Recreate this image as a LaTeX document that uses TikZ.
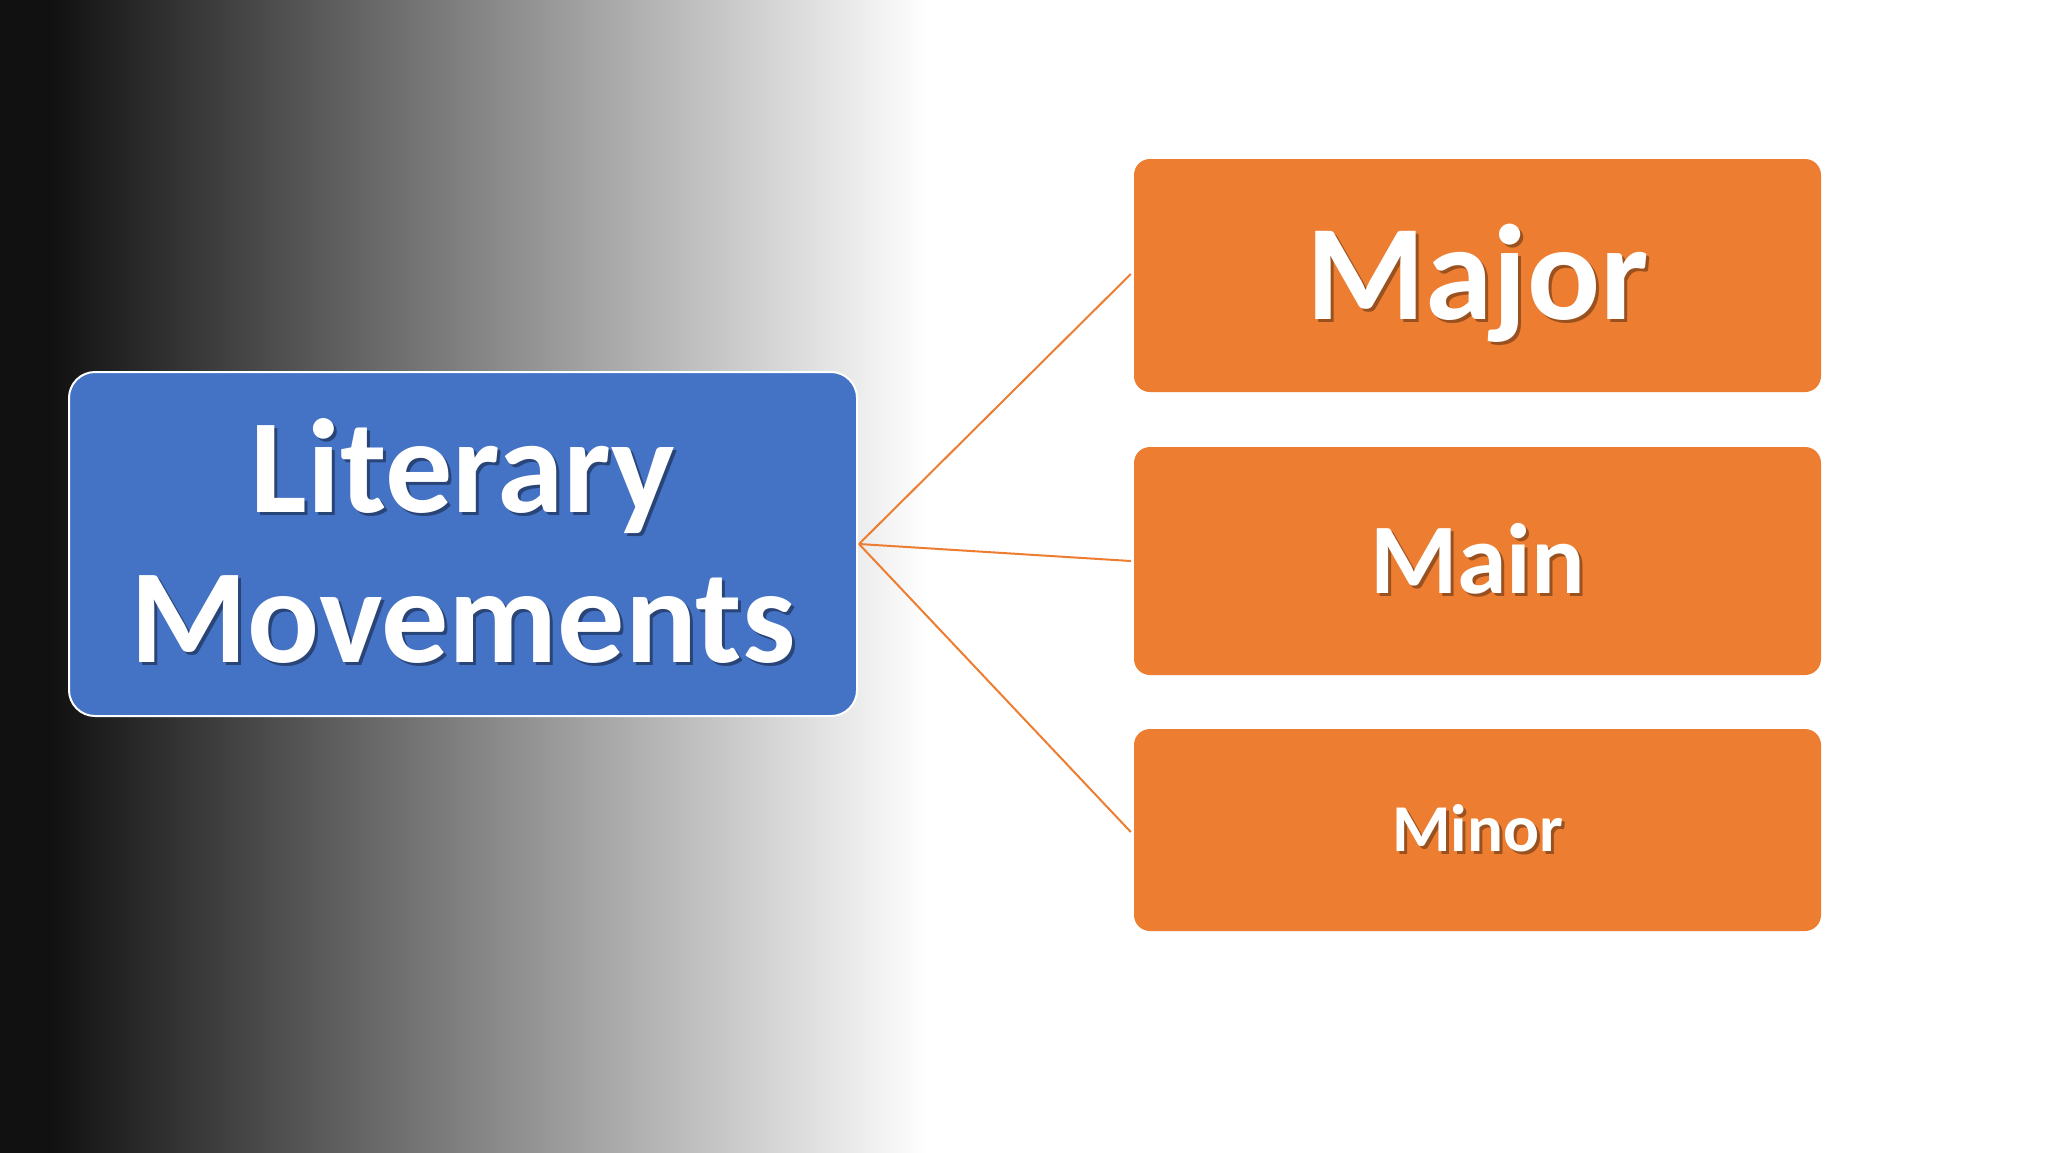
\documentclass[tikz,border=0pt]{standalone}
\usepackage{fontspec}
\setmainfont{Carlito}
\definecolor{boxblue}{HTML}{4472C4}
\definecolor{boxorange}{HTML}{ED7D31}
\definecolor{bgdark}{HTML}{111111}
\newcommand\shd[2]{\makebox[0pt][l]{\hspace{3pt}\raisebox{-3pt}{\textcolor{#1}{#2}}}#2}
\begin{document}
\begin{tikzpicture}[x=1pt,y=-1pt,
  mainbox/.style={draw=white, line width=2pt, fill=boxblue, rounded corners=26pt,
    minimum width=788pt, minimum height=344pt, text=white, align=center, inner sep=0pt},
  subbox/.style={fill=boxorange, rounded corners=16pt, minimum width=687pt,
    text=white, inner sep=0pt, text depth=0pt},
  link/.style={draw=boxorange, line width=2pt}]
\useasboundingbox (0,0) rectangle (2048,1152);
\fill[bgdark] (-3,-3) rectangle (53,1156);
\shade[left color=bgdark, right color=white] (52,-3) rectangle (928,1156);
\fill[white] (927,-3) rectangle (2052,1156);

\node[mainbox, text height=236pt, text depth=0pt,
  font=\bfseries\fontsize{134pt}{150pt}\selectfont] (lm) at (463,544)
  {\shd{boxblue!60!black}{Literary}\\\shd{boxblue!60!black}{Movements}};

\node[subbox, minimum height=233pt, text height=88pt,
  font=\bfseries\fontsize{136pt}{150pt}\selectfont] (maj) at (1477.5,275.5)
  {\shd{boxorange!65!black}{Major}};
\node[subbox, minimum height=228pt, text height=64pt,
  font=\bfseries\fontsize{100pt}{110pt}\selectfont] (mai) at (1477.5,561)
  {\shd{boxorange!65!black}{Main}};
\node[subbox, minimum height=202pt, text height=43pt,
  font=\bfseries\fontsize{67pt}{75pt}\selectfont] (min) at (1477.5,830)
  {\shd{boxorange!65!black}{Minor}};

\coordinate (apex) at ([xshift=1pt]lm.east);
\draw[link] (apex) -- ([xshift=-3pt,yshift=1.5pt]maj.west);
\draw[link] (apex) -- ([xshift=-3pt]mai.west);
\draw[link] (apex) -- ([xshift=-3pt,yshift=-2pt]min.west);
\end{tikzpicture}
\end{document}
